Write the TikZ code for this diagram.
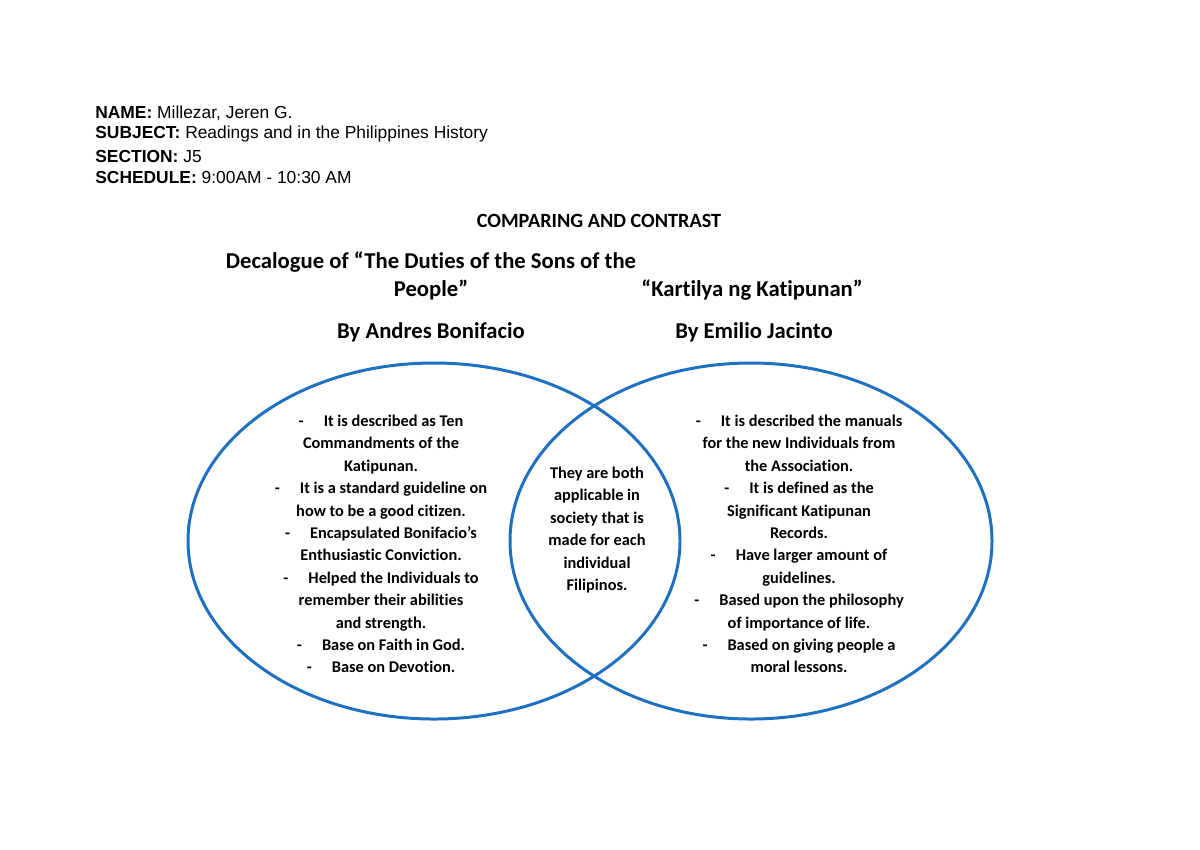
\documentclass[tikz,border=0pt]{standalone}
\usepackage{fontspec}
\setmainfont{Carlito}[Ligatures=NoCommon]
\newfontfamily\arial{Liberation Sans}
\definecolor{vblue}{HTML}{1F70C1}
\begin{document}
\begin{tikzpicture}[x=0.2mm,y=-0.2mm,
  hdr/.style={anchor=west,inner sep=0,font=\arial\fontsize{9.9}{11}\selectfont},
  ttl/.style={inner sep=0,font=\bfseries\fontsize{12.9}{15}\selectfont},
  body/.style={inner sep=0,align=center,font=\bfseries\fontsize{9.3}{12.75}\selectfont},
  ring/.style={draw=vblue,line width=1.7pt}]
\useasboundingbox (0,0) rectangle (1200,849);
\node[hdr] (h1) at (95,113) {\textbf{NAME:} Millezar, Jeren G.};
\node[hdr] (h2) at (95,134) {\textbf{SUBJECT:} Readings and in the Philippines History};
\node[hdr] (h3) at (95,156) {\textbf{SECTION:} J5};
\node[hdr] (h4) at (95,177) {\textbf{SCHEDULE:} 9:00AM - 10:30 AM};
\node[inner sep=0,font=\bfseries\fontsize{11.5}{13}\selectfont] (cmp) at (599,221) {COMPARING AND CONTRAST};
\node[ttl] (t1) at (431,262) {Decalogue of “The Duties of the Sons of the};
\node[ttl] (t2) at (431,290) {People”};
\node[ttl] (t3) at (431,332) {By Andres Bonifacio};
\node[ttl] (t4) at (752,290) {“Kartilya ng Katipunan”};
\node[ttl] (t5) at (754,332) {By Emilio Jacinto};
\draw[ring] (434,541) ellipse [x radius=246,y radius=178];
\draw[ring] (751,541) ellipse [x radius=241,y radius=178];
\node[body] (lt) at (381,544) {-\quad\ It is described as Ten\\Commandments of the\\Katipunan.\\-\quad\ It is a standard guideline on\\how to be a good citizen.\\-\quad\ Encapsulated Bonifacio’s\\Enthusiastic Conviction.\\-\quad\ Helped the Individuals to\\remember their abilities\\and strength.\\-\quad\ Base on Faith in God.\\-\quad\ Base on Devotion.};
\node[body] (mt) at (597,530) {They are both\\applicable in\\society that is\\made for each\\individual\\Filipinos.};
\node[body] (rt) at (799,544) {-\quad\ It is described the manuals\\for the new Individuals from\\the Association.\\-\quad\ It is defined as the\\Significant Katipunan\\Records.\\-\quad\ Have larger amount of\\guidelines.\\-\quad\ Based upon the philosophy\\of importance of life.\\-\quad\ Based on giving people a\\moral lessons.};
\end{tikzpicture}
\end{document}
